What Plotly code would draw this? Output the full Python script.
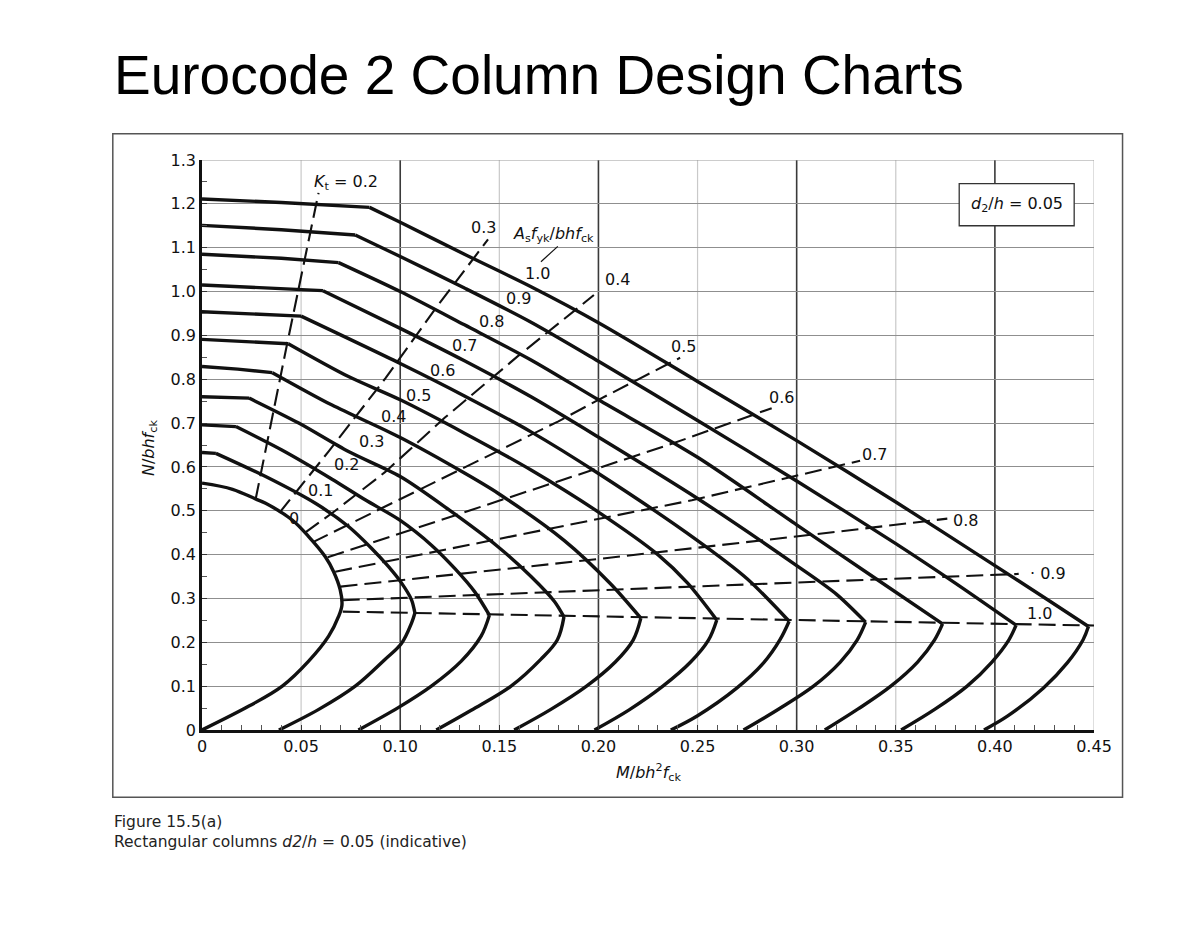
import plotly.graph_objects as go

# ---------------- axis ticks ----------------
x_tick_vals = [0, 0.05, 0.10, 0.15, 0.20, 0.25, 0.30, 0.35, 0.40, 0.45]
x_tick_text = ["0", "0.05", "0.10", "0.15", "0.20", "0.25", "0.30", "0.35", "0.40", "0.45"]
y_tick_vals = [0, 0.1, 0.2, 0.3, 0.4, 0.5, 0.6, 0.7, 0.8, 0.9, 1.0, 1.1, 1.2, 1.3]
y_tick_text = ["0", "0.1", "0.2", "0.3", "0.4", "0.5", "0.6", "0.7", "0.8", "0.9", "1.0", "1.1", "1.2", "1.3"]
x_dark_grid = [0.10, 0.20, 0.30, 0.40]
x_light_grid = [0.05, 0.15, 0.25, 0.35, 0.45]

# ---------------- interaction curves (M/bh^2fck, N/bhfck) ----------------
# rho = As fyk / bh fck ; each curve: flat top, descending branch, lower branch
rho_00 = [(0, 0.563), (0.0154, 0.549), (0.027, 0.527), (0.0321, 0.517), (0.0455, 0.479),
          (0.0538, 0.441), (0.0622, 0.395), (0.0664, 0.361), (0.0697, 0.320), (0.0706, 0.285),
          (0.0689, 0.259), (0.0639, 0.214), (0.0538, 0.157), (0.0405, 0.100), (0.0237, 0.0545), (0, 0)]

rho_01_flat = [(0, 0.633), (0.007, 0.631)]
rho_01_desc = [(0.007, 0.631), (0.0321, 0.578), (0.0572, 0.517), (0.0739, 0.464), (0.0856, 0.414),
               (0.094, 0.373), (0.1007, 0.335), (0.1057, 0.297), (0.1074, 0.267)]
rho_01_low = [(0.1074, 0.267), (0.1057, 0.244), (0.1007, 0.198), (0.0923, 0.161), (0.0773, 0.100),
              (0.0589, 0.047), (0.0388, 0)]

rho_02_flat = [(0, 0.696), (0.0171, 0.692)]
rho_02_desc = [(0.0171, 0.692), (0.0405, 0.638), (0.0656, 0.572), (0.0823, 0.525), (0.1, 0.478),
               (0.1159, 0.421), (0.1276, 0.368), (0.1376, 0.315), (0.145, 0.262)]
rho_02_low = [(0.145, 0.262), (0.1408, 0.214), (0.1308, 0.157), (0.1157, 0.100), (0.099, 0.051), (0.0789, 0)]

rho_03_flat = [(0, 0.760), (0.0237, 0.757)]
rho_03_desc = [(0.0237, 0.757), (0.0488, 0.70), (0.0739, 0.635), (0.1, 0.578), (0.1243, 0.503),
               (0.1493, 0.418), (0.166, 0.350), (0.1778, 0.293), (0.1826, 0.258)]
rho_03_low = [(0.1826, 0.258), (0.1793, 0.206), (0.1709, 0.161), (0.1559, 0.100), (0.1358, 0.045), (0.1182, 0)]

rho_04_flat = [(0, 0.829), (0.018, 0.823), (0.0355, 0.815)]
rho_04_desc = [(0.0355, 0.815), (0.0656, 0.741), (0.1, 0.667), (0.1324, 0.586), (0.1493, 0.540),
               (0.1828, 0.432), (0.2062, 0.333), (0.2214, 0.255)]
rho_04_low = [(0.2214, 0.255), (0.2175, 0.205), (0.2085, 0.155), (0.194, 0.100), (0.176, 0.047), (0.1575, 0)]

rho_05_flat = [(0, 0.891), (0.022, 0.886), (0.0435, 0.881)]
rho_05_desc = [(0.0435, 0.881), (0.0739, 0.806), (0.1, 0.753), (0.1324, 0.677), (0.166, 0.593),
               (0.2, 0.497), (0.23, 0.40), (0.245, 0.335), (0.2597, 0.251)]
rho_05_low = [(0.2597, 0.251), (0.2555, 0.205), (0.2465, 0.155), (0.2325, 0.100), (0.2155, 0.046), (0.198, 0)]

rho_06_flat = [(0, 0.954), (0.025, 0.949), (0.050, 0.944)]
rho_06_desc = [(0.050, 0.944), (0.1, 0.836), (0.1324, 0.762), (0.166, 0.68), (0.2, 0.585),
               (0.25, 0.432), (0.275, 0.345), (0.2962, 0.248)]
rho_06_low = [(0.2962, 0.248), (0.2916, 0.206), (0.2833, 0.153), (0.2699, 0.096), (0.2498, 0.032), (0.2365, 0)]

rho_07_flat = [(0, 1.015), (0.03, 1.009), (0.061, 1.002)]
rho_07_desc = [(0.061, 1.002), (0.1, 0.916), (0.1324, 0.842), (0.166, 0.76), (0.2, 0.668),
               (0.25, 0.528), (0.3, 0.375), (0.32, 0.31), (0.3348, 0.246)]
rho_07_low = [(0.3348, 0.246), (0.3305, 0.205), (0.322, 0.155), (0.3085, 0.100), (0.291, 0.048), (0.2732, 0)]

rho_08_flat = [(0, 1.085), (0.04, 1.076), (0.0689, 1.066)]
rho_08_desc = [(0.0689, 1.066), (0.1, 1.0), (0.1324, 0.924), (0.166, 0.844), (0.2, 0.753),
               (0.25, 0.622), (0.3, 0.468), (0.34, 0.345), (0.3736, 0.242)]
rho_08_low = [(0.3736, 0.242), (0.3695, 0.205), (0.361, 0.155), (0.3475, 0.100), (0.331, 0.048), (0.3142, 0)]

rho_09_flat = [(0, 1.151), (0.04, 1.141), (0.0773, 1.129)]
rho_09_desc = [(0.0773, 1.129), (0.1, 1.080), (0.1324, 1.008), (0.166, 0.930), (0.2, 0.841),
               (0.25, 0.706), (0.3, 0.568), (0.35, 0.425), (0.38, 0.335), (0.4107, 0.239)]
rho_09_low = [(0.4107, 0.239), (0.407, 0.205), (0.3985, 0.155), (0.386, 0.100), (0.370, 0.048), (0.3527, 0)]

rho_10_flat = [(0, 1.211), (0.04, 1.203), (0.0845, 1.192)]
rho_10_desc = [(0.0845, 1.192), (0.1, 1.158), (0.1324, 1.085), (0.166, 1.011), (0.2, 0.929),
               (0.25, 0.795), (0.3, 0.66), (0.35, 0.52), (0.4, 0.375), (0.427, 0.296), (0.4472, 0.236)]
rho_10_low = [(0.4472, 0.236), (0.4445, 0.206), (0.4365, 0.153), (0.4245, 0.096), (0.4065, 0.032), (0.3945, 0)]

flat_parts = [rho_01_flat, rho_02_flat, rho_03_flat, rho_04_flat, rho_05_flat,
              rho_06_flat, rho_07_flat, rho_08_flat, rho_09_flat, rho_10_flat]
desc_parts = [rho_01_desc, rho_02_desc, rho_03_desc, rho_04_desc, rho_05_desc,
              rho_06_desc, rho_07_desc, rho_08_desc, rho_09_desc, rho_10_desc]
low_parts = [rho_01_low, rho_02_low, rho_03_low, rho_04_low, rho_05_low,
             rho_06_low, rho_07_low, rho_08_low, rho_09_low, rho_10_low]

# ---------------- Kt dashed lines ----------------
kt_02 = [(0.027, 0.525), (0.043, 0.882), (0.0588, 1.225)]
kt_03 = [(0.039, 0.495), (0.0638, 0.635), (0.0925, 0.802), (0.1176, 0.96), (0.1443, 1.119)]
kt_04 = [(0.052, 0.45), (0.0672, 0.50), (0.0923, 0.588), (0.1224, 0.712), (0.1592, 0.852), (0.1977, 0.992)]
kt_05 = [(0.0557, 0.428), (0.1798, 0.704), (0.2, 0.753), (0.2412, 0.849)]
kt_06 = [(0.0634, 0.394), (0.1798, 0.567), (0.2353, 0.65), (0.2874, 0.734)]
kt_07 = [(0.0672, 0.361), (0.1798, 0.463), (0.2471, 0.524), (0.332, 0.614)]
kt_08 = [(0.0699, 0.327), (0.20, 0.39), (0.3105, 0.447), (0.376, 0.482)]
kt_09 = [(0.071, 0.296), (0.1946, 0.318), (0.412, 0.356)]
kt_10 = [(0.071, 0.27), (0.453, 0.238)]
kt_lines = [kt_02, kt_03, kt_04, kt_05, kt_06, kt_07, kt_08, kt_09, kt_10]

# ---------------- labels ----------------
rho_label_text = ["0", "0.1", "0.2", "0.3", "0.4", "0.5", "0.6", "0.7", "0.8", "0.9", "1.0"]
rho_label_M = [0.0463, 0.0598, 0.0730, 0.0855, 0.0968, 0.1090, 0.1213, 0.1325, 0.1460, 0.1595, 0.1690]
rho_label_N = [0.482, 0.546, 0.606, 0.658, 0.714, 0.764, 0.821, 0.878, 0.932, 0.984, 1.042]

kt_label_text = ["0.3", "0.4", "0.5", "0.6", "0.7", "0.8", "· 0.9", "1.0"]
kt_label_M = [0.1420, 0.2095, 0.2428, 0.2925, 0.3395, 0.3852, 0.4270, 0.4225]
kt_label_N = [1.147, 1.027, 0.874, 0.758, 0.628, 0.478, 0.358, 0.266]

kt_first_label = "<i>K</i><sub>t</sub> = 0.2"
kt_first_pos = (0.0728, 1.248)
steel_label = "<i>A</i><sub>s</sub><i>f</i><sub>yk</sub>/<i>bhf</i><sub>ck</sub>"
steel_label_pos = (0.1775, 1.130)
steel_leader = [(0.1795, 1.103), (0.1710, 1.068)]
d2h_box = (0.382, 0.440, 1.150, 1.246)
d2h_text = "<i>d</i><sub>2</sub>/<i>h</i> = 0.05"

title_text = "Eurocode 2 Column Design Charts"
caption_1 = "Figure 15.5(a)"
caption_2 = "Rectangular columns <i>d2</i>/<i>h</i> = 0.05 (indicative)"

FONT = "DejaVu Sans, Open Sans, sans-serif"
INK = "#111111"

fig = go.Figure()


def xs(pts):
    return [p[0] for p in pts]


def ys(pts):
    return [p[1] for p in pts]


# dashed Kt lines (beneath solid curves)
for pts in kt_lines:
    fig.add_trace(go.Scatter(x=xs(pts), y=ys(pts), mode="lines",
                             line=dict(color=INK, width=2.1, dash="17px,7px"),
                             hoverinfo="skip", showlegend=False))
fig.add_trace(go.Scatter(x=xs(steel_leader), y=ys(steel_leader), mode="lines",
                         line=dict(color=INK, width=1.2), hoverinfo="skip", showlegend=False))

# solid interaction curves
fig.add_trace(go.Scatter(x=xs(rho_00), y=ys(rho_00), mode="lines",
                         line=dict(color=INK, width=3.4, shape="spline", smoothing=1.0),
                         hoverinfo="skip", showlegend=False))
for f, d, l in zip(flat_parts, desc_parts, low_parts):
    fig.add_trace(go.Scatter(x=xs(f), y=ys(f), mode="lines",
                             line=dict(color=INK, width=3.4), hoverinfo="skip", showlegend=False))
    fig.add_trace(go.Scatter(x=xs(d), y=ys(d), mode="lines",
                             line=dict(color=INK, width=3.4, shape="spline", smoothing=0.8),
                             hoverinfo="skip", showlegend=False))
    fig.add_trace(go.Scatter(x=xs(l), y=ys(l), mode="lines",
                             line=dict(color=INK, width=3.4, shape="spline", smoothing=1.0),
                             hoverinfo="skip", showlegend=False))

shapes = []
for xv in x_light_grid:
    shapes.append(dict(type="line", xref="x", yref="y", x0=xv, x1=xv, y0=0, y1=1.3,
                       line=dict(color="#c9c9c9", width=1.2), layer="below"))
for xv in x_dark_grid:
    shapes.append(dict(type="line", xref="x", yref="y", x0=xv, x1=xv, y0=0, y1=1.3,
                       line=dict(color="#3a3a3a", width=1.6), layer="below"))
shapes.append(dict(type="line", xref="x", yref="y", x0=0, x1=0.45, y0=1.3, y1=1.3,
                   line=dict(color="#9a9a9a", width=1.2), layer="below"))
# d2/h box
shapes.append(dict(type="rect", xref="x", yref="y", x0=d2h_box[0], x1=d2h_box[1],
                   y0=d2h_box[2], y1=d2h_box[3], fillcolor="white",
                   line=dict(color="#333333", width=1.3), layer="above"))
# outer frame
shapes.append(dict(type="rect", xref="paper", yref="paper", x0=-0.100, x1=1.032, y0=-0.118, y1=1.046,
                   line=dict(color="#555555", width=1.5), layer="below"))

label_font = dict(family=FONT, size=16, color=INK)
annotations = []
for t, m, n in zip(rho_label_text, rho_label_M, rho_label_N):
    annotations.append(dict(text=t, x=m, y=n, xref="x", yref="y", showarrow=False,
                            xanchor="center", yanchor="middle", font=label_font))
for t, m, n in zip(kt_label_text, kt_label_M, kt_label_N):
    annotations.append(dict(text=t, x=m, y=n, xref="x", yref="y", showarrow=False,
                            xanchor="center", yanchor="middle", font=label_font))
annotations += [
    dict(text=kt_first_label, x=kt_first_pos[0], y=kt_first_pos[1], xref="x", yref="y",
         showarrow=False, xanchor="center", yanchor="middle", font=label_font),
    dict(text=steel_label, x=steel_label_pos[0], y=steel_label_pos[1], xref="x", yref="y",
         showarrow=False, xanchor="center", yanchor="middle", font=label_font),
    dict(text=d2h_text, x=(d2h_box[0] + d2h_box[1]) / 2, y=(d2h_box[2] + d2h_box[3]) / 2,
         xref="x", yref="y", showarrow=False, xanchor="center", yanchor="middle", font=label_font),
    dict(text=title_text, x=-0.1009, y=1.149, xref="paper", yref="paper", xanchor="left",
         yanchor="middle", showarrow=False,
         font=dict(family="Liberation Sans, Arial, sans-serif", size=55, color="#000000")),
    dict(text="<i>N</i>/<i>bhf</i><sub>ck</sub>", x=-0.0594, y=0.4947, xref="paper", yref="paper",
         textangle=-90, showarrow=False, xanchor="center", yanchor="middle", font=label_font),
    dict(text="<i>M</i>/<i>bh</i><sup>2</sup><i>f</i><sub>ck</sub>", x=0.500, y=-0.0737,
         xref="paper", yref="paper", showarrow=False, xanchor="center", yanchor="middle",
         font=label_font),
    dict(text=caption_1, x=-0.1009, y=-0.161, xref="paper", yref="paper", xanchor="left",
         yanchor="middle", showarrow=False, font=dict(family=FONT, size=15.5, color="#222222")),
    dict(text=caption_2, x=-0.1009, y=-0.1965, xref="paper", yref="paper", xanchor="left",
         yanchor="middle", showarrow=False, font=dict(family=FONT, size=15.5, color="#222222")),
]

fig.update_layout(
    width=1200, height=927,
    margin=dict(l=194, r=114, t=152, b=205),
    paper_bgcolor="white", plot_bgcolor="white",
    shapes=shapes, annotations=annotations, showlegend=False,
    font=dict(family=FONT, size=16, color=INK),
)
fig.update_xaxes(range=[0, 0.45], tickvals=x_tick_vals, ticktext=x_tick_text,
                 showgrid=False, zeroline=False, showline=True, linecolor="#111111", linewidth=2.5,
                 ticks="inside", ticklen=5, tickcolor="#333333", tickwidth=1,
                 minor=dict(dtick=0.01, ticks="inside", ticklen=5, tickcolor="#555555", tickwidth=1),
                 tickfont=dict(family=FONT, size=16, color=INK))
fig.update_yaxes(range=[0, 1.3], tickvals=y_tick_vals, ticktext=y_tick_text,
                 showgrid=True, gridcolor="#8f8f8f", gridwidth=1.1,
                 zeroline=False, showline=True, linecolor="#111111", linewidth=2.5,
                 ticks="inside", ticklen=5, tickcolor="#333333", tickwidth=1,
                 minor=dict(dtick=0.05, ticks="inside", ticklen=5, tickcolor="#555555", tickwidth=1,
                            showgrid=False),
                 tickfont=dict(family=FONT, size=16, color=INK))

fig.write_html("out.html")
